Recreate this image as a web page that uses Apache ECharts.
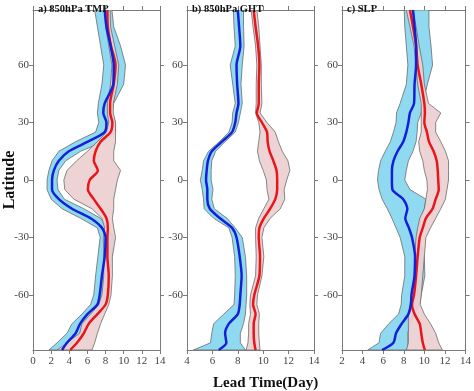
<!DOCTYPE html>
<html>
<head>
<meta charset="utf-8">
<script src="https://cdn.jsdelivr.net/npm/echarts@6/dist/echarts.min.js"></script>
<style>html,body{margin:0;padding:0;background:#fff}#c{width:474px;height:391px}</style>
</head>
<body>
<div id="c"></div>
<script>
// Latitudes (degrees) at which values are read
const LAT = [88.75, 80, 70, 60, 50, 40, 35, 30, 25, 20, 15, 10, 5, 0, -5, -10, -15, -20, -25, -30, -40, -50, -60, -65, -70, -75, -80, -85, -88.75];
const Y_TICKS = [-60, -30, 0, 30, 60];
const PANEL_TITLES = ['a) 850hPa TMP', 'b) 850hPa GHT', 'c) SLP'];
const X_RANGES = [[0, 14], [4, 14], [2, 14]];

// a) 850hPa TMP
const aBlue   = [7.9,8.1,8.55,8.9,8.85,7.9,7.75,8.1,7.9,6.05,3.95,2.85,2.3,2.1,2.1,2.85,4.3,6.35,7.6,8.0,7.9,7.6,7.35,7.1,6.0,5.2,4.7,3.75,3.2];
const aBlueLo = [6.8,7.1,7.45,7.8,7.6,7.2,7.1,7.25,6.9,4.7,2.85,2.1,1.75,1.55,1.55,2.0,3.2,5.25,7.1,7.4,7.15,6.9,6.7,6.35,5.4,4.3,3.75,2.65,1.75];
const aBlueHi = [8.7,8.9,9.65,10.2,10.0,8.9,8.7,9.1,9.1,7.8,5.25,3.6,2.85,2.65,2.75,3.45,5.6,7.45,8.35,8.9,8.7,8.35,8.1,7.6,7.1,6.15,5.4,4.3,3.4];
const aRed    = [8.2,8.25,8.6,9.1,8.9,8.5,8.5,8.75,8.55,7.45,6.9,6.7,7.15,6.25,6.05,6.7,7.45,8.1,8.25,8.2,8.2,8.35,8.25,8.0,7.1,6.15,5.6,4.85,4.1];
const aRedLo  = [7.9,8.0,8.35,8.7,8.55,8.2,8.2,8.35,8.1,7.1,6.0,4.8,3.75,3.4,3.5,4.5,6.5,7.6,7.9,7.75,7.8,7.8,7.6,7.25,6.35,5.4,5.15,3.75,2.65];
const aRedHi  = [8.5,8.55,9.0,9.45,9.3,8.85,8.85,9.1,9.1,9.1,8.9,8.9,9.65,9.3,9.1,8.9,8.9,8.75,8.9,9.1,8.75,8.75,8.6,8.35,7.9,7.45,7.1,6.8,6.5];

// b) 850hPa GHT
const bBlue   = [8.0,8.1,8.2,7.9,7.95,8.05,7.9,7.8,7.55,6.75,5.95,5.65,5.55,5.5,5.6,5.6,5.8,6.6,7.55,7.9,8.15,8.3,8.2,8.15,8.0,7.3,7.0,7.1,6.5];
const bBlueLo = [7.65,7.7,7.8,7.4,7.6,7.8,7.6,7.55,7.3,6.55,5.7,5.3,5.2,5.05,5.2,5.3,5.35,6.1,7.3,7.55,7.75,7.8,7.75,7.7,6.9,6.1,5.95,5.85,4.5];
const bBlueHi = [8.45,8.45,8.5,8.35,8.25,8.35,8.2,8.05,7.8,7.0,6.25,5.95,5.9,5.9,6.05,5.95,6.15,7.15,7.8,8.35,8.6,8.7,8.7,8.65,8.6,8.45,8.2,8.2,8.6];
const bRed    = [9.25,9.4,9.6,9.7,9.65,9.65,9.5,9.9,10.3,10.35,10.5,10.8,11.05,11.1,11.1,10.95,10.55,10.05,9.7,9.65,9.75,9.7,9.3,9.2,9.4,9.25,9.25,9.3,9.4];
const bRedLo  = [9.05,9.2,9.4,9.5,9.45,9.45,9.4,9.65,9.75,9.65,9.55,9.7,10.0,10.25,10.3,10.45,10.05,9.65,9.4,9.4,9.45,9.4,9.0,8.95,9.0,8.85,8.85,8.8,8.65];
const bRedHi  = [9.5,9.65,9.75,9.85,9.85,9.9,9.75,10.3,10.95,11.2,11.5,11.95,12.1,11.85,11.65,11.7,11.35,10.55,10.05,9.9,10.05,9.9,9.55,9.5,9.7,9.65,9.65,9.7,9.75];

// c) SLP
const cBlue   = [8.9,9.05,9.2,9.2,9.05,9.0,8.6,8.45,8.25,7.95,7.4,7.0,6.85,6.85,6.9,7.95,8.35,8.15,8.5,8.8,9.1,9.05,8.75,8.7,8.45,7.8,7.25,7.0,5.9];
const cBlueLo = [8.05,8.1,8.25,8.4,8.25,7.65,7.3,7.25,7.0,6.7,6.2,5.75,5.55,5.45,5.6,5.9,6.4,6.85,7.25,7.65,8.1,8.1,7.8,7.75,7.5,6.55,5.75,5.6,4.5];
const cBlueHi = [10.45,10.45,10.65,10.8,10.3,9.85,9.7,9.35,9.3,9.2,8.9,8.45,8.25,8.1,8.6,10.15,10.0,9.7,9.55,9.55,10.0,10.05,9.7,9.55,9.05,8.6,8.4,8.4,8.4];
const cRed    = [8.6,8.9,9.2,9.35,9.7,10.0,10.05,10.0,10.25,10.45,10.9,11.2,11.3,11.35,11.4,11.1,10.8,10.15,9.85,9.55,9.35,9.2,9.0,8.8,9.05,9.55,9.7,9.85,10.05];
const cRedLo  = [8.25,8.6,9.0,9.2,9.35,9.7,9.7,9.7,9.7,9.45,9.55,9.85,10.0,10.25,10.3,10.15,10.0,9.55,9.35,9.2,9.05,9.0,8.75,8.6,8.45,8.45,8.45,8.45,8.25];
const cRedHi  = [8.9,9.2,9.5,9.85,10.0,10.4,11.6,11.1,11.1,11.6,12.05,12.35,12.35,12.35,12.2,12.05,11.6,11.1,10.6,10.15,10.0,9.85,9.7,9.6,10.0,10.6,11.1,11.4,11.75];

const PANELS = [
  {blue:aBlue, blueLo:aBlueLo, blueHi:aBlueHi, red:aRed, redLo:aRedLo, redHi:aRedHi},
  {blue:bBlue, blueLo:bBlueLo, blueHi:bBlueHi, red:bRed, redLo:bRedLo, redHi:bRedHi},
  {blue:cBlue, blueLo:cBlueLo, blueHi:cBlueHi, red:cRed, redLo:cRedLo, redHi:cRedHi}
];

const FONT = '"Liberation Serif","Times New Roman",serif';
const AXIS_COLOR = '#7a7a7a';
const LABEL_COLOR = '#444';
const GRID_LEFTS = [33, 187, 342];
const GRID_W = 127, GRID_TOP = 10, GRID_H = 340;

const chart = echarts.init(document.getElementById('c'), null, {renderer: 'canvas'});

const grids = [], xAxes = [], yAxes = [], series = [];
PANELS.forEach((p, i) => {
  grids.push({left: GRID_LEFTS[i], top: GRID_TOP, width: GRID_W, height: GRID_H, containLabel: false});
  const xr = X_RANGES[i];
  const xBase = {
    type: 'value', gridIndex: i, min: xr[0], max: xr[1], interval: 2,
    splitLine: {show: false},
    axisLine: {show: true, onZero: false, lineStyle: {color: AXIS_COLOR, width: 1}},
    axisTick: {show: true, inside: false, length: 4, lineStyle: {color: AXIS_COLOR}}
  };
  xAxes.push(Object.assign({}, xBase, {position: 'bottom',
    axisLabel: {show: true, margin: 6, color: LABEL_COLOR, fontFamily: FONT, fontSize: 11}}));
  xAxes.push(Object.assign({}, xBase, {position: 'top', axisLabel: {show: false}}));
  const yBase = {
    type: 'value', gridIndex: i, min: -88.75, max: 88.75,
    splitLine: {show: false},
    axisLine: {show: true, onZero: false, lineStyle: {color: AXIS_COLOR, width: 1}},
    axisTick: {show: true, inside: false, length: 4, customValues: Y_TICKS, lineStyle: {color: AXIS_COLOR}}
  };
  yAxes.push(Object.assign({}, yBase, {position: 'left',
    axisLabel: {show: true, margin: 4, customValues: Y_TICKS, color: LABEL_COLOR, fontFamily: FONT, fontSize: 11}}));
  yAxes.push(Object.assign({}, yBase, {position: 'right', axisLabel: {show: false}}));

  const band = (lo, hi, fill) => ({
    type: 'custom', xAxisIndex: 2 * i, yAxisIndex: 2 * i, silent: true, clip: true,
    data: [[lo[0], LAT[0]]],
    renderItem: function (params, api) {
      const pts = [];
      for (let k = 0; k < LAT.length; k++) pts.push(api.coord([lo[k], LAT[k]]));
      for (let k = LAT.length - 1; k >= 0; k--) pts.push(api.coord([hi[k], LAT[k]]));
      return {type: 'polygon', shape: {points: pts}, style: {fill: fill, stroke: '#6b6b6b', lineWidth: 0.8}};
    }
  });
  const line = (vals, color) => ({
    type: 'line', xAxisIndex: 2 * i, yAxisIndex: 2 * i, silent: true,
    data: vals.map((v, k) => [v, LAT[k]]), showSymbol: false, smooth: 0.25,
    lineStyle: {color: color, width: 2.5}
  });
  series.push(band(p.blueLo, p.blueHi, '#8fd9f1'));
  series.push(band(p.redLo, p.redHi, 'rgba(236,207,207,0.92)'));
  series.push(line(p.red, '#e8161c'));
  series.push(line(p.blue, '#1420d8'));
});

const titles = PANEL_TITLES.map((t, i) => ({
  text: t, left: GRID_LEFTS[i], top: -1,
  textStyle: {fontFamily: FONT, fontSize: 10.5, fontWeight: 'bold', color: '#111'}
}));
titles.push({text: 'Lead Time(Day)', left: 208, top: 371,
  textStyle: {fontFamily: FONT, fontSize: 15, fontWeight: 'bold', color: '#111'}});

chart.setOption({
  animation: false,
  title: titles,
  grid: grids,
  xAxis: xAxes,
  yAxis: yAxes,
  series: series,
  graphic: [{
    type: 'text', x: 10, y: 180, rotation: Math.PI / 2,
    style: {text: 'Latitude', font: 'bold 16px ' + FONT, fill: '#111', textAlign: 'center', textVerticalAlign: 'middle'}
  }]
});
</script>
</body>
</html>
